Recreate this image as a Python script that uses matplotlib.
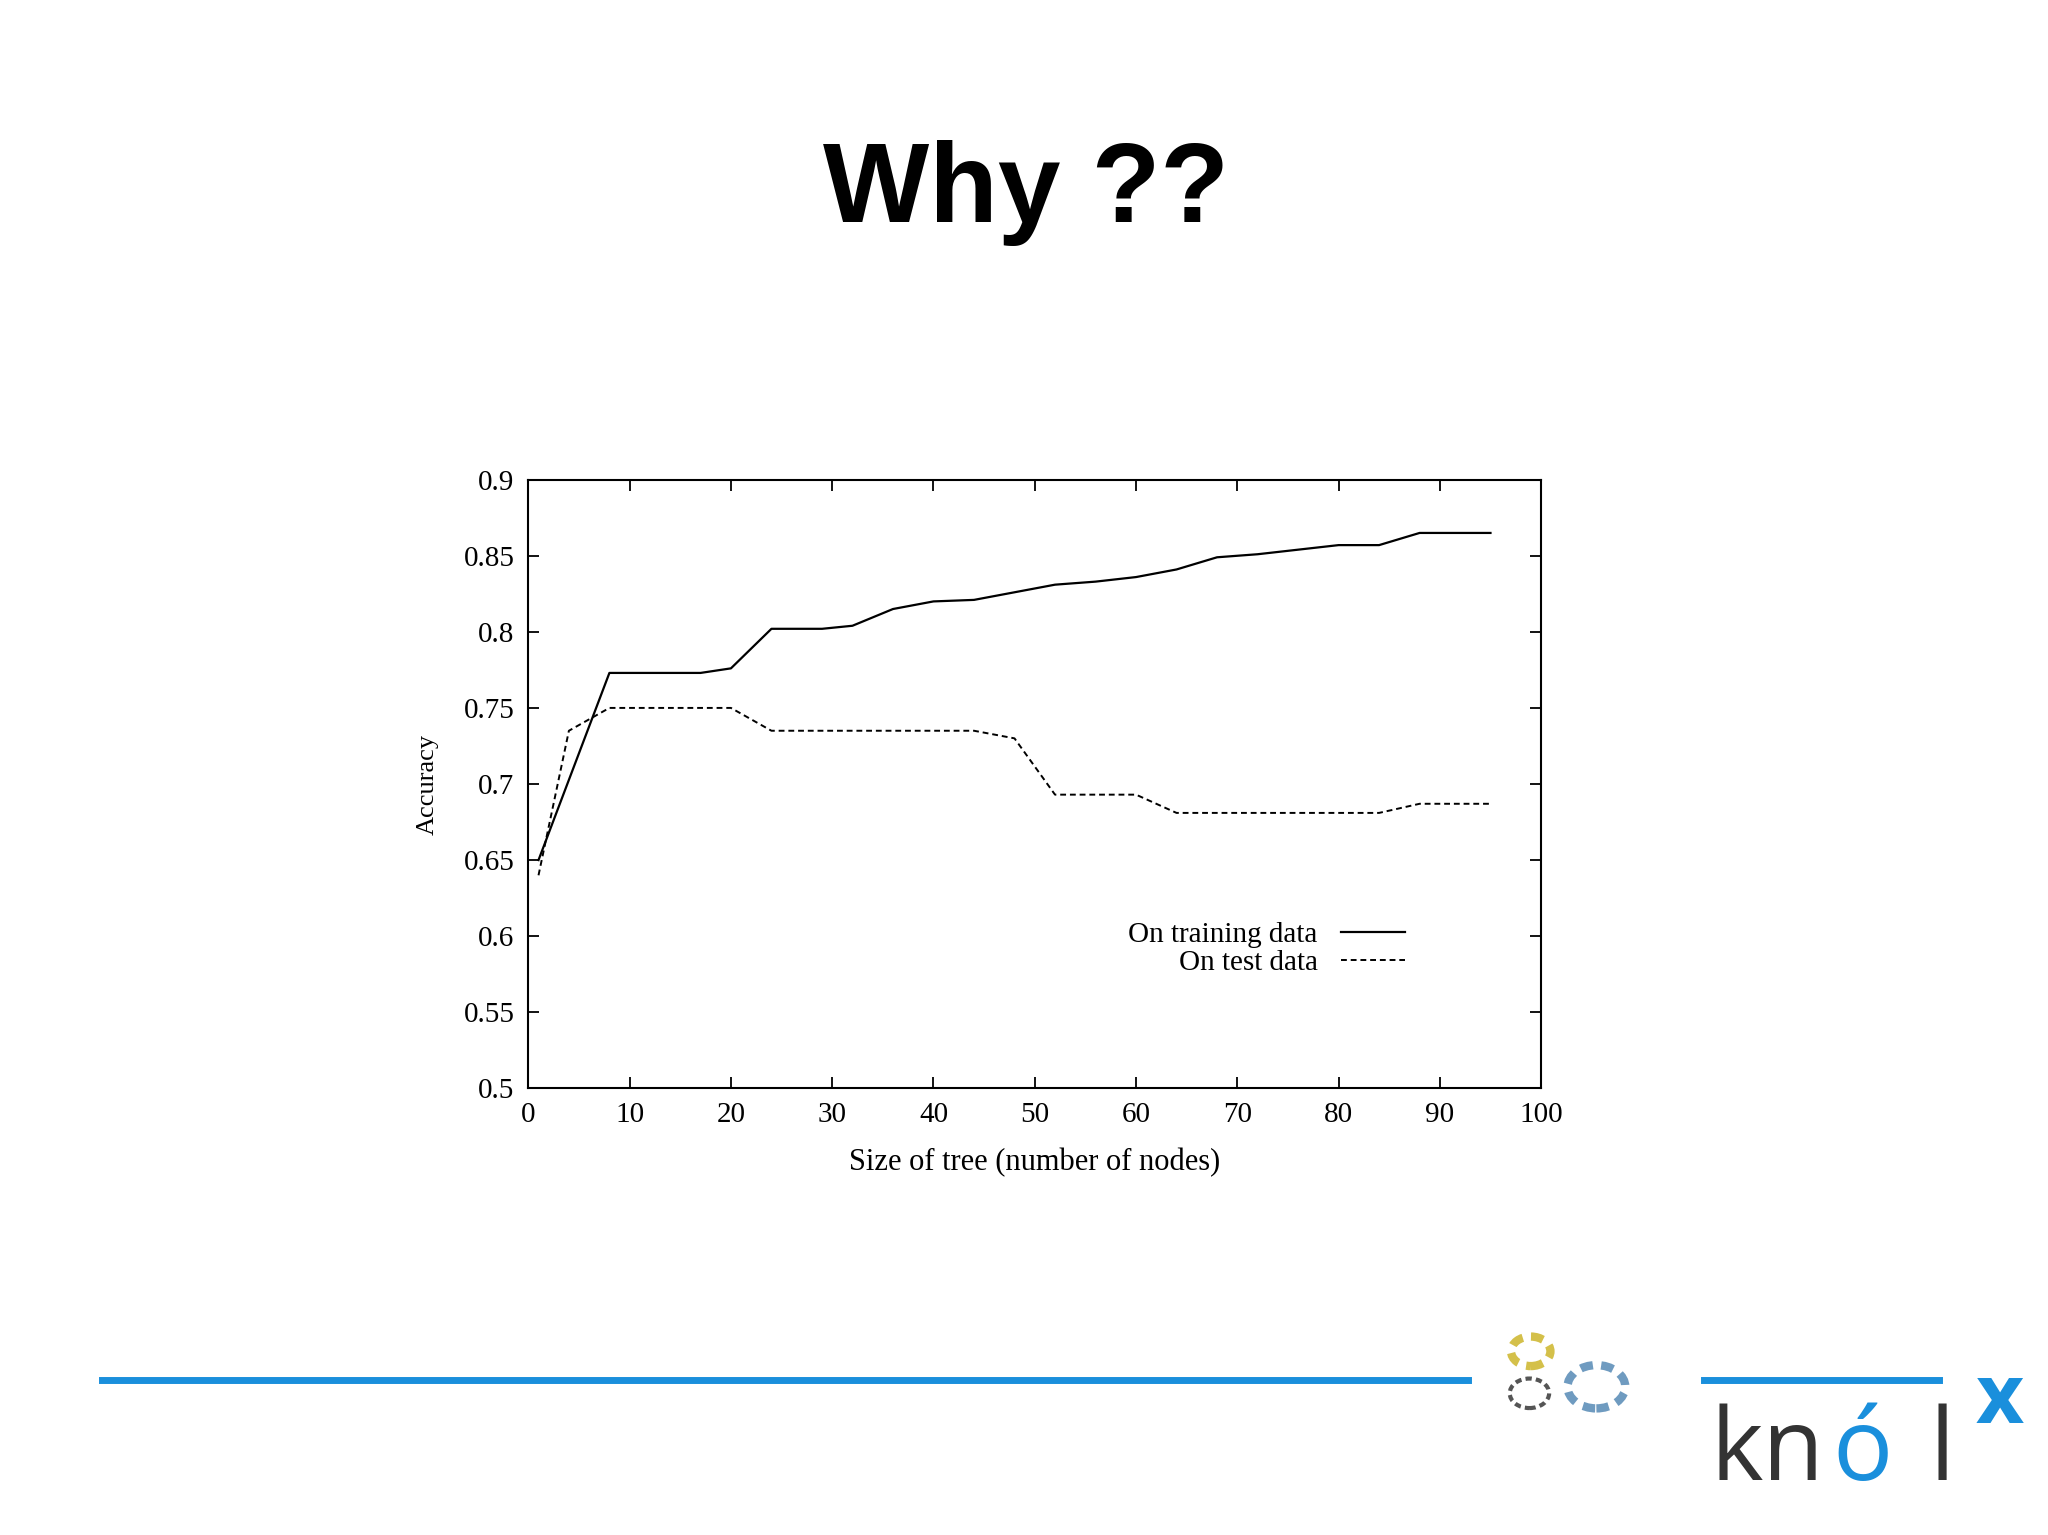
import matplotlib
matplotlib.use("Agg")
import matplotlib.pyplot as plt
from matplotlib.lines import Line2D

train_x = [1, 8, 17, 20, 24, 29, 32, 36, 40, 44, 48, 52, 56, 60, 64, 68, 72, 76, 80, 84, 88, 95]
train_y = [0.65, 0.773, 0.773, 0.776, 0.802, 0.802, 0.804, 0.815, 0.82, 0.821, 0.826, 0.831, 0.833,
           0.836, 0.841, 0.849, 0.851, 0.854, 0.857, 0.857, 0.865, 0.865]
test_x = [1, 4, 8, 20, 24, 44, 48, 52, 60, 64, 84, 88, 95]
test_y = [0.64, 0.735, 0.75, 0.75, 0.735, 0.735, 0.73, 0.693, 0.693, 0.681, 0.681, 0.687, 0.687]
xticks = [0, 10, 20, 30, 40, 50, 60, 70, 80, 90, 100]
yticks = [0.5, 0.55, 0.6, 0.65, 0.7, 0.75, 0.8, 0.85, 0.9]
ytick_labels = ["0.5", "0.55", "0.6", "0.65", "0.7", "0.75", "0.8", "0.85", "0.9"]

fig = plt.figure(figsize=(20.48, 15.35), dpi=100)
fig.text(0.501, 0.874, "Why ??", ha="center", va="center", fontsize=81, fontweight="bold",
         family="Liberation Sans")

ax = fig.add_axes([0.258, 0.291, 0.4945, 0.3965])
ax.plot(train_x, train_y, color="black", lw=1.6, label="On training data")
ax.plot(test_x, test_y, color="black", lw=1.4, ls=(0, (3, 2)), label="On test data")
ax.set_xlim(0, 100)
ax.set_ylim(0.5, 0.9)
ax.set_xticks(xticks)
ax.set_yticks(yticks)
ax.set_yticklabels(ytick_labels)
ax.tick_params(direction="in", length=8, width=1.3, top=True, right=True, labelsize=21, pad=10)
for lab in ax.get_xticklabels() + ax.get_yticklabels():
    lab.set_family("Liberation Serif")
for s in ax.spines.values():
    s.set_linewidth(1.5)
ax.set_xlabel("Size of tree (number of nodes)", family="Liberation Serif", fontsize=22, labelpad=14)
ax.set_ylabel("Accuracy", family="Liberation Serif", fontsize=19, labelpad=18)
leg = ax.legend(loc="lower right", bbox_to_anchor=(0.88, 0.16), frameon=False, markerfirst=False,
                prop={"family": "Liberation Serif", "size": 21}, handlelength=2.2,
                labelspacing=0.05, borderpad=0)
for t in leg.get_texts():
    t.set_ha("right")

# footer lines and logo
fig.add_artist(Line2D([78/1560, 1118/1560], [1-1052/1170]*2, color="#1a8fdc", lw=5))
fig.add_artist(Line2D([1298/1560, 1477/1560], [1-1052/1170]*2, color="#1a8fdc", lw=5))
fig.text(1303/1560, 1-1108/1170, "kn", fontsize=72, color="#333333", va="center", family="Open Sans")
fig.text(1396/1560, 1-1108/1170, "ó", fontsize=72, color="#1a8fdc", va="center", family="Open Sans")
fig.text(1470/1560, 1-1108/1170, "l", fontsize=72, color="#333333", va="center", family="Open Sans")
fig.text(1505/1560, 1-1068/1170, "x", fontsize=60, color="#1a8fdc", va="center", family="Open Sans",
         fontweight="bold")
for cx, cy, c in [(1166, 1030, "#d4c04a"), (1216, 1057, "#6f9bc0"), (1165, 1062, "#555555")]:
    r = 22 if c == "#6f9bc0" else 15
    fig.add_artist(plt.Circle((cx/1560, 1-cy/1170), r/1560, transform=fig.transFigure,
                              fill=False, ec=c, lw=6 if c != "#555555" else 3, ls=(0, (1.5, 1))))
fig.savefig("out.png", dpi=100, facecolor="white")
